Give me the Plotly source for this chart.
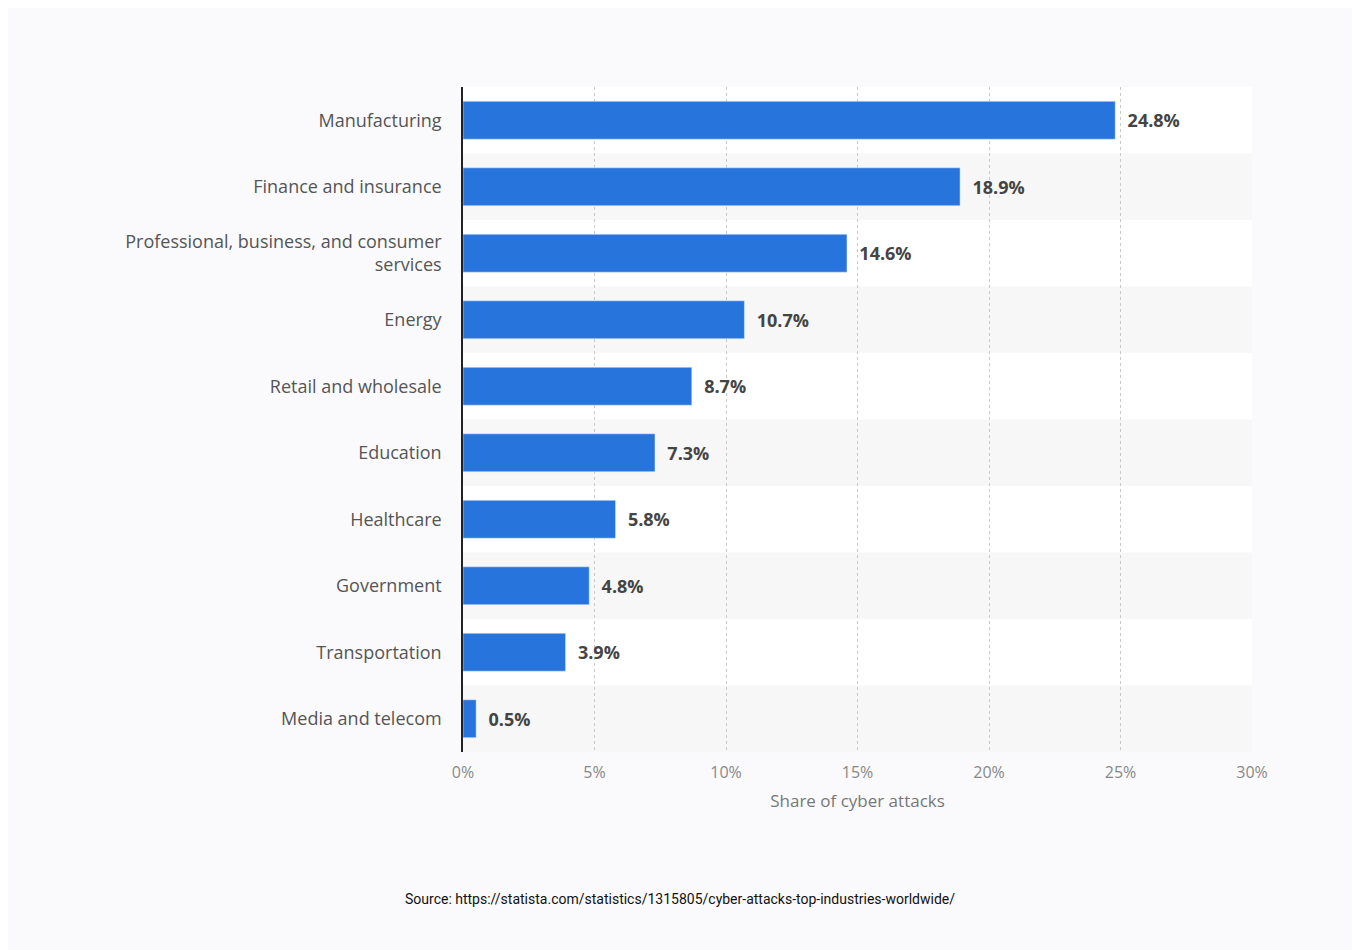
import plotly.graph_objects as go

categories = ["Manufacturing", "Finance and insurance", "Professional, business, and consumer<br>services",
              "Energy", "Retail and wholesale", "Education", "Healthcare", "Government",
              "Transportation", "Media and telecom"]
values = [24.8, 18.9, 14.6, 10.7, 8.7, 7.3, 5.8, 4.8, 3.9, 0.5]
tick_vals = [0, 5, 10, 15, 20, 25, 30]
tick_text = ["0%", "5%", "10%", "15%", "20%", "25%", "30%"]

n = len(categories)
ypos = list(range(n))

fig = go.Figure(go.Bar(
    x=values, y=ypos, orientation="h", width=0.57,
    marker=dict(color="#2874dd"),
    text=[f"  <b>{v}%</b>" for v in values], textposition="outside",
    textfont=dict(family="Open Sans", size=18, color="#444444"),
    cliponaxis=False,
))

shapes = []
for i in range(1, n, 2):
    shapes.append(dict(type="rect", xref="paper", yref="y", x0=0, x1=1, y0=i - 0.5, y1=i + 0.5,
                       fillcolor="#f7f7f8", line_width=0, layer="below"))
fig.update_layout(
    width=1360, height=950,
    paper_bgcolor="#fafafc", plot_bgcolor="#ffffff",
    margin=dict(l=455, r=116, t=79, b=206),
    shapes=shapes,
    showlegend=False,
    xaxis=dict(range=[0, 30], tickvals=tick_vals, ticktext=tick_text,
               showgrid=True, gridcolor="#c8c8c8", griddash="dot", zeroline=False,
               tickfont=dict(family="Open Sans", size=16, color="#888888"),
               title=dict(text="Share of cyber attacks", font=dict(family="Open Sans", size=17, color="#777777"), standoff=12),
               ticks="outside", ticklen=6, tickcolor="rgba(0,0,0,0)"),
    yaxis=dict(tickvals=ypos, ticktext=categories, range=[n - 0.5, -0.5],
               showgrid=False, zeroline=False, showline=True, linecolor="#222222", linewidth=1.5,
               tickfont=dict(family="Open Sans", size=18, color="#555555"), ticks="", ticklabelstandoff=16),
    annotations=[dict(text="Source: https://statista.com/statistics/1315805/cyber-attacks-top-industries-worldwide/",
                      xref="paper", yref="paper", x=0.5, y=0, yshift=-147, xanchor="center", yanchor="middle",
                      xshift=-178, showarrow=False, font=dict(family="Roboto", size=14, color="#111111"))],
)
fig.update_layout(bargap=0.43)
fig.write_html("out.html")
